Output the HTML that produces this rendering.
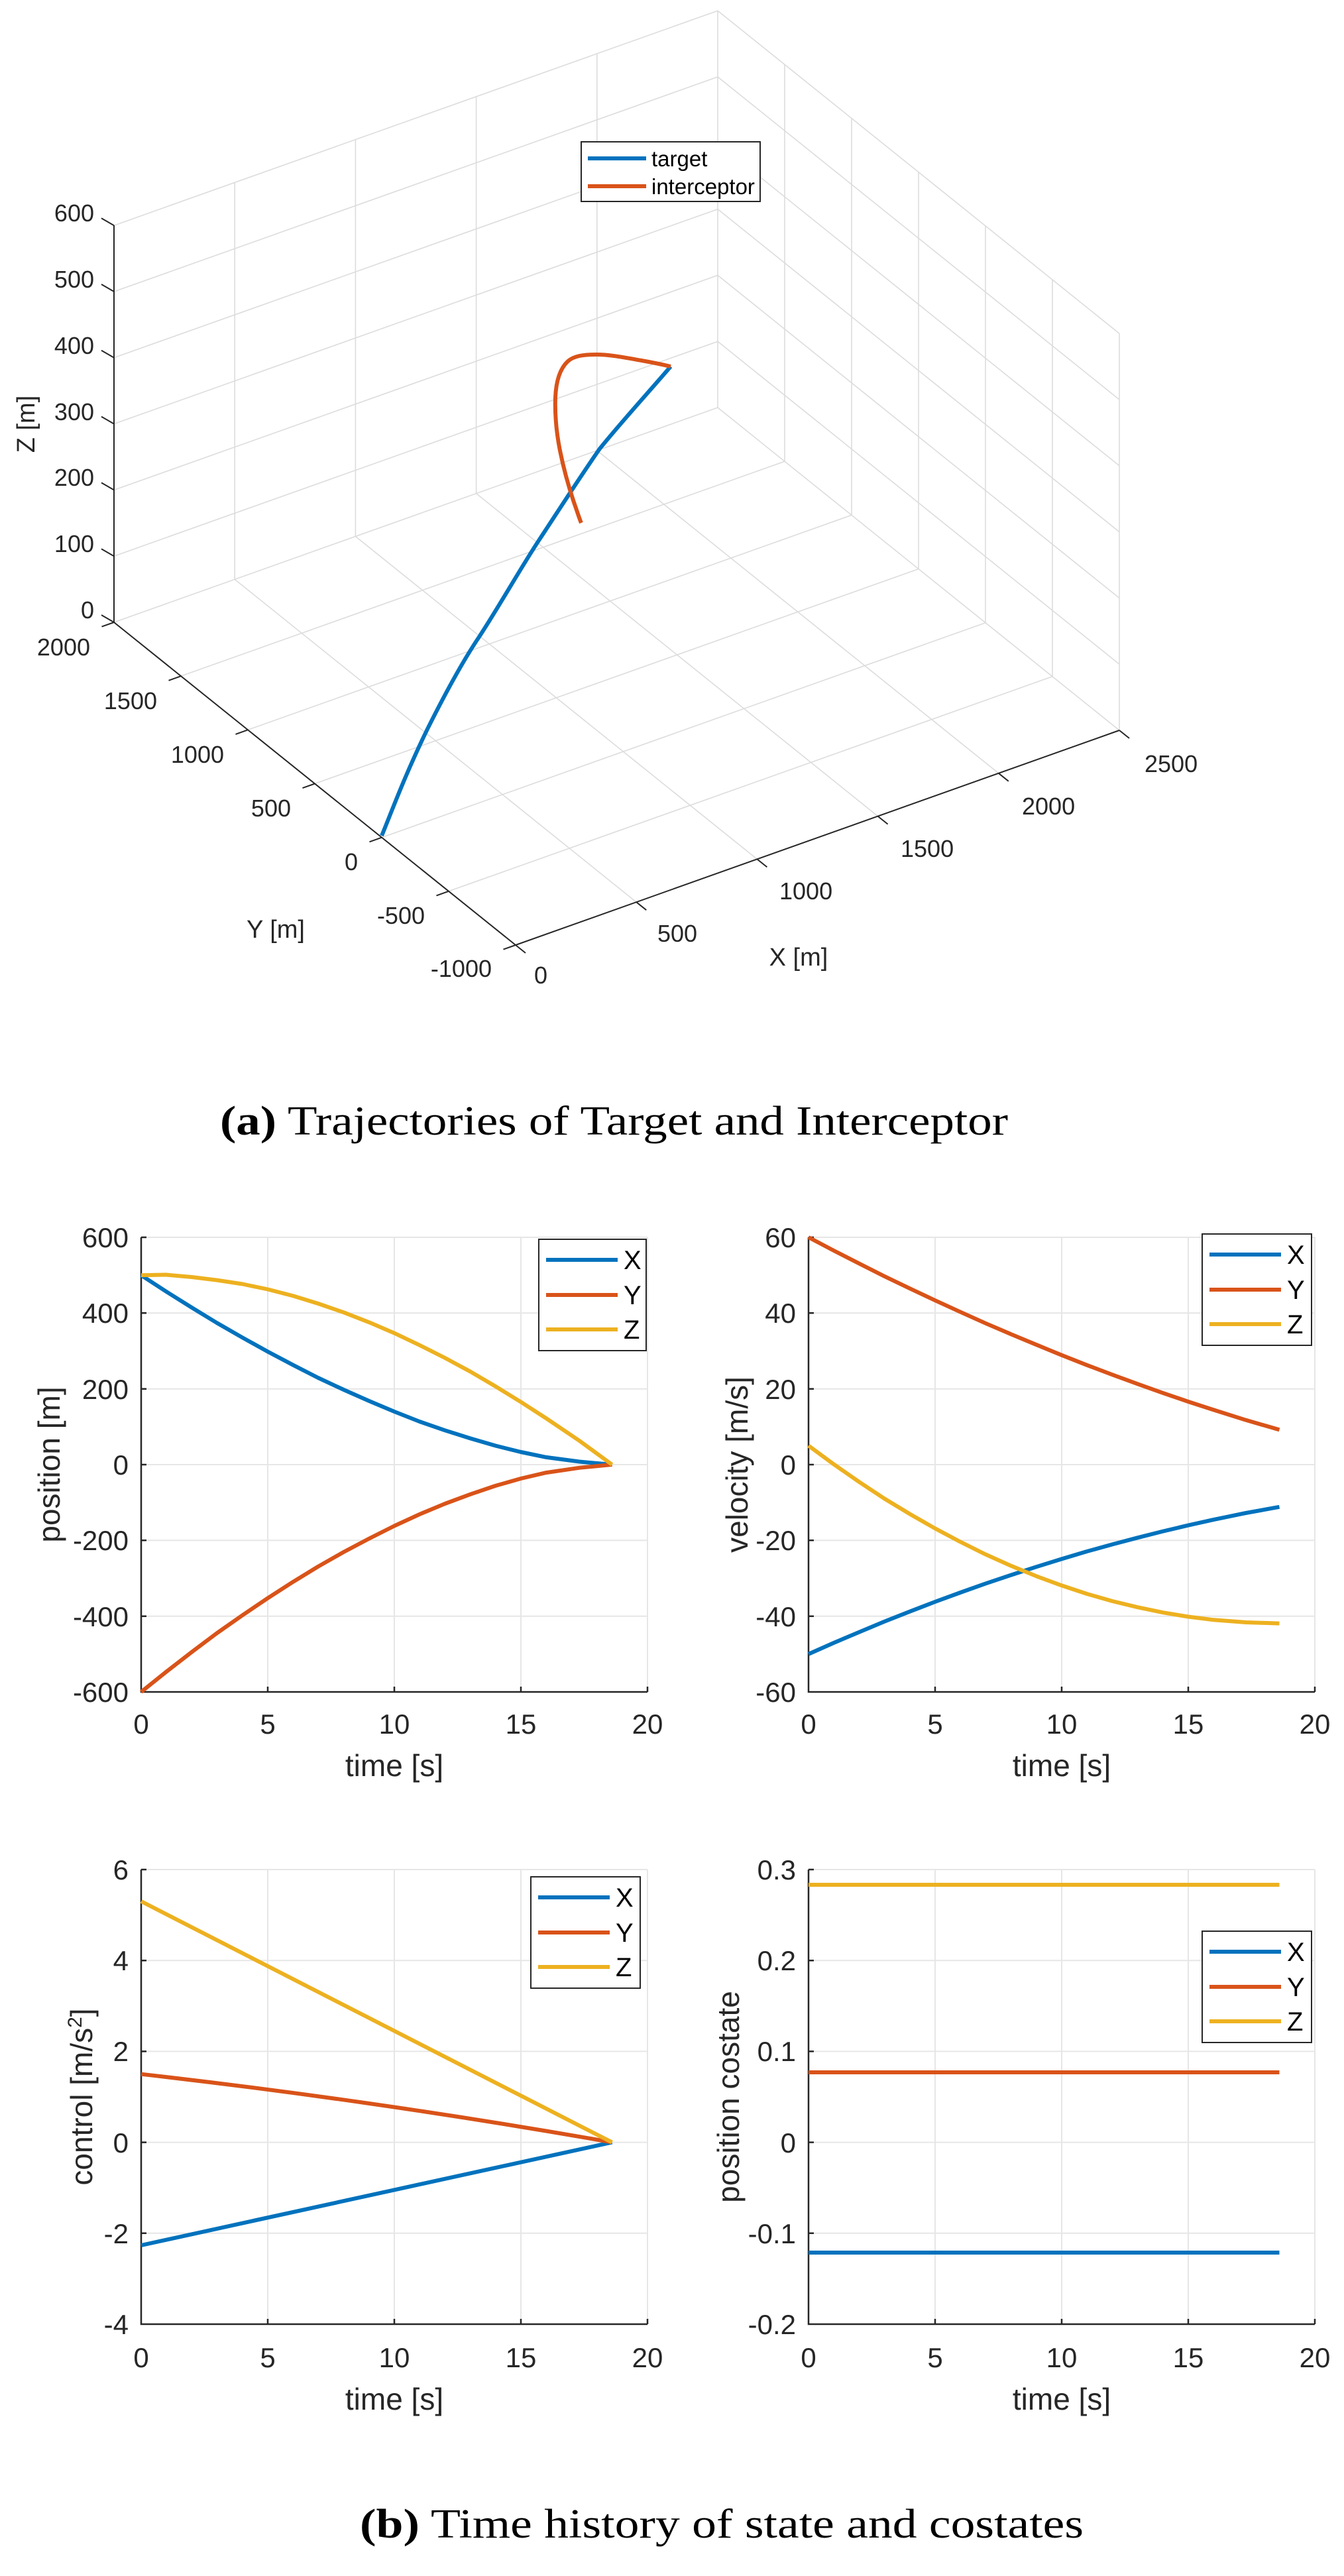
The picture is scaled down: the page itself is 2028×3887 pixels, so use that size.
<!DOCTYPE html>
<html><head><meta charset="utf-8"><style>
html,body{margin:0;padding:0;background:#fff;}
svg{display:block;}
text{font-family:"Liberation Sans",sans-serif;fill:#262626;}
.t3{font-size:36px;}
.tk{font-size:42px;}
.al{font-size:46px;}
.lg{font-size:40px;fill:#000;}
.cap{font-family:"Liberation Serif",serif;font-size:62px;fill:#000;}
</style></head><body>
<svg width="2028" height="3887" viewBox="0 0 2028 3887" xmlns="http://www.w3.org/2000/svg">
<rect width="2028" height="3887" fill="#fff"/>

<g stroke="#dcdcdc" stroke-width="1.6" fill="none">
<line x1="778" y1="1426" x2="172" y2="939"/>
<line x1="960.2" y1="1361.2" x2="354.2" y2="874.2"/>
<line x1="1142.4" y1="1296.4" x2="536.4" y2="809.4"/>
<line x1="1324.6" y1="1231.6" x2="718.6" y2="744.6"/>
<line x1="1506.8" y1="1166.8" x2="900.8" y2="679.8"/>
<line x1="1689" y1="1102" x2="1083" y2="615"/>
<line x1="677" y1="1344.8" x2="1588" y2="1020.8"/>
<line x1="576" y1="1263.7" x2="1487" y2="939.7"/>
<line x1="475" y1="1182.5" x2="1386" y2="858.5"/>
<line x1="374" y1="1101.3" x2="1285" y2="777.3"/>
<line x1="273" y1="1020.2" x2="1184" y2="696.2"/>
<line x1="172" y1="939" x2="1083" y2="615"/>
<line x1="354.2" y1="874.2" x2="354.2" y2="275.4"/>
<line x1="536.4" y1="809.4" x2="536.4" y2="210.6"/>
<line x1="718.6" y1="744.6" x2="718.6" y2="145.8"/>
<line x1="900.8" y1="679.8" x2="900.8" y2="81"/>
<line x1="1083" y1="615" x2="1083" y2="16.2"/>
<line x1="172" y1="839.2" x2="1083" y2="515.2"/>
<line x1="172" y1="739.4" x2="1083" y2="415.4"/>
<line x1="172" y1="639.6" x2="1083" y2="315.6"/>
<line x1="172" y1="539.8" x2="1083" y2="215.8"/>
<line x1="172" y1="440" x2="1083" y2="116"/>
<line x1="172" y1="340.2" x2="1083" y2="16.2"/>
<line x1="1184" y1="696.2" x2="1184" y2="97.4"/>
<line x1="1285" y1="777.3" x2="1285" y2="178.5"/>
<line x1="1386" y1="858.5" x2="1386" y2="259.7"/>
<line x1="1487" y1="939.7" x2="1487" y2="340.9"/>
<line x1="1588" y1="1020.8" x2="1588" y2="422"/>
<line x1="1689" y1="1102" x2="1689" y2="503.2"/>
<line x1="1083" y1="515.2" x2="1689" y2="1002.2"/>
<line x1="1083" y1="415.4" x2="1689" y2="902.4"/>
<line x1="1083" y1="315.6" x2="1689" y2="802.6"/>
<line x1="1083" y1="215.8" x2="1689" y2="702.8"/>
<line x1="1083" y1="116" x2="1689" y2="603"/>
<line x1="1083" y1="16.2" x2="1689" y2="503.2"/>
</g>
<g stroke="#262626" stroke-width="2" fill="none">
<line x1="172" y1="939" x2="172" y2="340"/>
<line x1="172" y1="939" x2="778" y2="1426"/>
<line x1="778" y1="1426" x2="1689" y2="1102"/>
<line x1="172" y1="939" x2="153" y2="928"/>
<line x1="172" y1="839.2" x2="153" y2="828.2"/>
<line x1="172" y1="739.4" x2="153" y2="728.4"/>
<line x1="172" y1="639.6" x2="153" y2="628.6"/>
<line x1="172" y1="539.8" x2="153" y2="528.8"/>
<line x1="172" y1="440" x2="153" y2="429"/>
<line x1="172" y1="340.2" x2="153" y2="329.2"/>
<line x1="172" y1="939" x2="153.5" y2="945.6"/>
<line x1="273" y1="1020.2" x2="254.5" y2="1026.8"/>
<line x1="374" y1="1101.3" x2="355.5" y2="1107.9"/>
<line x1="475" y1="1182.5" x2="456.5" y2="1189.1"/>
<line x1="576" y1="1263.7" x2="557.5" y2="1270.3"/>
<line x1="677" y1="1344.8" x2="658.5" y2="1351.4"/>
<line x1="778" y1="1426" x2="759.5" y2="1432.6"/>
<line x1="778" y1="1426" x2="793" y2="1438"/>
<line x1="960.2" y1="1361.2" x2="975.2" y2="1373.2"/>
<line x1="1142.4" y1="1296.4" x2="1157.4" y2="1308.4"/>
<line x1="1324.6" y1="1231.6" x2="1339.6" y2="1243.6"/>
<line x1="1506.8" y1="1166.8" x2="1521.8" y2="1178.8"/>
<line x1="1689" y1="1102" x2="1704" y2="1114"/>
</g>
<g class="t3" text-anchor="end">
<text x="142" y="933">0</text>
<text x="142" y="833">100</text>
<text x="142" y="733">200</text>
<text x="142" y="634">300</text>
<text x="142" y="534">400</text>
<text x="142" y="434">500</text>
<text x="142" y="334">600</text>
<text x="136" y="989">2000</text>
<text x="237" y="1070">1500</text>
<text x="338" y="1151">1000</text>
<text x="439" y="1232">500</text>
<text x="540" y="1313">0</text>
<text x="641" y="1394">-500</text>
<text x="742" y="1474">-1000</text>
</g>
<g class="t3">
<text x="806" y="1484">0</text>
<text x="992" y="1421">500</text>
<text x="1176" y="1357">1000</text>
<text x="1359" y="1293">1500</text>
<text x="1542" y="1229">2000</text>
<text x="1727" y="1165">2500</text>
</g>
<g class="t3" text-anchor="middle" style="font-size:38px">
<text transform="translate(52,640) rotate(-90)">Z [m]</text>
<text x="416" y="1415">Y [m]</text>
<text x="1205" y="1457">X [m]</text>
</g>
<path d="M576,1261 C592,1222 610,1172 645,1100 C676,1038 700,995 723,961 C755,912 785,858 814,814 C845,767 875,720 905,677 C940,634 975,596 1012,553" stroke="#0072BD" stroke-width="6" fill="none"/>
<path d="M1012,553 C995,549 985,547 968,544 C940,539 920,535 900,535 C880,535 866,537 857,545 C845,556 839,575 838,600 C837,630 840,655 845,680 C852,715 860,740 866,758 C871,772 874,782 877,789" stroke="#D95319" stroke-width="6" fill="none"/>
<rect x="877" y="214" width="270" height="90" fill="#fff" stroke="#262626" stroke-width="2"/>
<line x1="887" y1="239" x2="975" y2="239" stroke="#0072BD" stroke-width="6"/>
<line x1="887" y1="281" x2="975" y2="281" stroke="#D95319" stroke-width="6"/>
<text x="983" y="251" style="font-size:33px;fill:#000">target</text>
<text x="983" y="293" style="font-size:33px;fill:#000">interceptor</text>

<text class="cap" x="332" y="1712" textLength="1189" lengthAdjust="spacingAndGlyphs"><tspan font-weight="bold">(a)</tspan> Trajectories of Target and Interceptor</text>

<g stroke="#e6e6e6" stroke-width="2">
<line x1="404" y1="1867" x2="404" y2="2553"/><line x1="595" y1="1867" x2="595" y2="2553"/><line x1="786" y1="1867" x2="786" y2="2553"/><line x1="977" y1="1867" x2="977" y2="2553"/>
<line x1="213" y1="1867" x2="977" y2="1867"/><line x1="213" y1="1981.3" x2="977" y2="1981.3"/><line x1="213" y1="2095.7" x2="977" y2="2095.7"/><line x1="213" y1="2210" x2="977" y2="2210"/><line x1="213" y1="2324.3" x2="977" y2="2324.3"/><line x1="213" y1="2438.7" x2="977" y2="2438.7"/>
<line x1="1411" y1="1867" x2="1411" y2="2553"/><line x1="1602" y1="1867" x2="1602" y2="2553"/><line x1="1793" y1="1867" x2="1793" y2="2553"/><line x1="1984" y1="1867" x2="1984" y2="2553"/>
<line x1="1220" y1="1867" x2="1984" y2="1867"/><line x1="1220" y1="1981.3" x2="1984" y2="1981.3"/><line x1="1220" y1="2095.7" x2="1984" y2="2095.7"/><line x1="1220" y1="2210" x2="1984" y2="2210"/><line x1="1220" y1="2324.3" x2="1984" y2="2324.3"/><line x1="1220" y1="2438.7" x2="1984" y2="2438.7"/>
<line x1="404" y1="2821" x2="404" y2="3507"/><line x1="595" y1="2821" x2="595" y2="3507"/><line x1="786" y1="2821" x2="786" y2="3507"/><line x1="977" y1="2821" x2="977" y2="3507"/>
<line x1="213" y1="2821" x2="977" y2="2821"/><line x1="213" y1="2958.2" x2="977" y2="2958.2"/><line x1="213" y1="3095.4" x2="977" y2="3095.4"/><line x1="213" y1="3232.6" x2="977" y2="3232.6"/><line x1="213" y1="3369.8" x2="977" y2="3369.8"/>
<line x1="1411" y1="2821" x2="1411" y2="3507"/><line x1="1602" y1="2821" x2="1602" y2="3507"/><line x1="1793" y1="2821" x2="1793" y2="3507"/><line x1="1984" y1="2821" x2="1984" y2="3507"/>
<line x1="1220" y1="2821" x2="1984" y2="2821"/><line x1="1220" y1="2958.2" x2="1984" y2="2958.2"/><line x1="1220" y1="3095.4" x2="1984" y2="3095.4"/><line x1="1220" y1="3232.6" x2="1984" y2="3232.6"/><line x1="1220" y1="3369.8" x2="1984" y2="3369.8"/>
</g>
<g stroke="#262626" stroke-width="2.5" fill="none">
<path d="M213,1867 V2553 H977"/><path d="M1220,1867 V2553 H1984"/>
<path d="M213,2821 V3507 H977"/><path d="M1220,2821 V3507 H1984"/>
<path d="M213,1867h8M213,1981.3h8M213,2095.7h8M213,2210h8M213,2324.3h8M213,2438.7h8"/>
<path d="M1220,1867h8M1220,1981.3h8M1220,2095.7h8M1220,2210h8M1220,2324.3h8M1220,2438.7h8"/>
<path d="M213,2821h8M213,2958.2h8M213,3095.4h8M213,3232.6h8M213,3369.8h8"/>
<path d="M1220,2821h8M1220,2958.2h8M1220,3095.4h8M1220,3232.6h8M1220,3369.8h8"/>
<path d="M404,2553v-8M595,2553v-8M786,2553v-8M977,2553v-8"/>
<path d="M1411,2553v-8M1602,2553v-8M1793,2553v-8M1984,2553v-8"/>
<path d="M404,3507v-8M595,3507v-8M786,3507v-8M977,3507v-8"/>
<path d="M1411,3507v-8M1602,3507v-8M1793,3507v-8M1984,3507v-8"/>
</g>

<g class="tk" text-anchor="end">
<text x="194" y="1882">600</text><text x="194" y="1996">400</text><text x="194" y="2111">200</text><text x="194" y="2225">0</text><text x="194" y="2339">-200</text><text x="194" y="2454">-400</text><text x="194" y="2568">-600</text>
<text x="1201" y="1882">60</text><text x="1201" y="1996">40</text><text x="1201" y="2111">20</text><text x="1201" y="2225">0</text><text x="1201" y="2339">-20</text><text x="1201" y="2454">-40</text><text x="1201" y="2568">-60</text>
<text x="194" y="2836">6</text><text x="194" y="2973">4</text><text x="194" y="3110">2</text><text x="194" y="3248">0</text><text x="194" y="3385">-2</text><text x="194" y="3522">-4</text>
<text x="1201" y="2836">0.3</text><text x="1201" y="2973">0.2</text><text x="1201" y="3110">0.1</text><text x="1201" y="3248">0</text><text x="1201" y="3385">-0.1</text><text x="1201" y="3522">-0.2</text>
</g>
<g class="tk" text-anchor="middle">
<text x="213" y="2616">0</text><text x="404" y="2616">5</text><text x="595" y="2616">10</text><text x="786" y="2616">15</text><text x="977" y="2616">20</text>
<text x="1220" y="2616">0</text><text x="1411" y="2616">5</text><text x="1602" y="2616">10</text><text x="1793" y="2616">15</text><text x="1984" y="2616">20</text>
<text x="213" y="3572">0</text><text x="404" y="3572">5</text><text x="595" y="3572">10</text><text x="786" y="3572">15</text><text x="977" y="3572">20</text>
<text x="1220" y="3572">0</text><text x="1411" y="3572">5</text><text x="1602" y="3572">10</text><text x="1793" y="3572">15</text><text x="1984" y="3572">20</text>
</g>
<g class="al" text-anchor="middle">
<text x="595" y="2680">time [s]</text><text x="1602" y="2680">time [s]</text>
<text x="595" y="3636">time [s]</text><text x="1602" y="3636">time [s]</text>
<text transform="translate(90,2210) rotate(-90)">position [m]</text>
<text transform="translate(1128,2210) rotate(-90)">velocity [m/s]</text>
<text transform="translate(139,3164) rotate(-90)">control [m/s<tspan font-size="30" dy="-16">2</tspan><tspan dy="16">]</tspan></text>
<text transform="translate(1115,3164) rotate(-90)">position costate</text>
</g>

<g fill="none" stroke-width="6" stroke-linejoin="round">
<polyline stroke="#0072BD" points="213,1924.2 251,1949 289.4,1973.1 327,1996 365.8,2018.3 404,2039.5 442.2,2059.7 480,2079 518.6,2097 557,2114 595,2130 633,2145 671.4,2158.3 710,2170.5 747.8,2181.5 786,2191 824.2,2198.9 874,2205.5 923.5,2210"/>
<polyline stroke="#D95319" points="213,2553 251,2522.5 289.4,2492.7 327,2464.5 365.8,2437.3 404,2411.5 442.2,2386.9 480,2363.8 518.6,2341.9 557,2321.6 595,2302.5 633,2285 671.4,2269 710,2254.7 747.8,2241.9 786,2231 824.2,2222.1 874,2214.8 923.5,2210"/>
<polyline stroke="#EDB120" points="213,1924.2 250,1923.5 289.4,1927 327,1931.6 365.8,1937.5 404,1945.5 442.2,1955.4 480,1967 518.6,1980.3 557,1995.3 595,2011.6 633,2029.7 671.4,2049 710,2069.8 747.8,2092 786,2115.5 824.2,2140.2 874,2173.8 923.5,2210"/>
<polyline stroke="#0072BD" points="1220,2495.9 1258,2479 1296.4,2462.7 1334,2447 1372.8,2431.7 1411,2417 1449.2,2403 1487,2389.6 1525.6,2376.6 1564,2364.2 1602,2352.4 1640,2341 1678.4,2330.4 1717,2320.2 1754.8,2310.6 1793,2301.6 1831.2,2293.1 1880,2283 1930.5,2273.8"/>
<polyline stroke="#D95319" points="1220,1867 1258,1887 1296.4,1906.6 1334,1925.6 1372.8,1944.2 1411,1962.2 1449.2,1979.7 1487,1996.7 1525.6,2013.2 1564,2029.2 1602,2044.8 1640,2059.8 1678.4,2074.3 1717,2088.4 1754.8,2101.9 1793,2115 1831.2,2127.4 1880,2142.8 1930.5,2157.4"/>
<polyline stroke="#EDB120" points="1220,2181.4 1258,2209.4 1296.4,2236.1 1334,2261 1372.8,2284.5 1411,2306.3 1449.2,2326.6 1487,2345.4 1525.6,2362.7 1564,2378.4 1602,2392.4 1640,2405 1678.4,2416 1717,2425.3 1754.8,2433.2 1793,2439.5 1831.2,2444.3 1880,2448 1930.5,2449.6"/>
<polyline stroke="#0072BD" points="213,3388 923.5,3232.6"/>
<path stroke="#D95319" d="M213,3129.7 Q568,3170 923.5,3232.6"/>
<polyline stroke="#EDB120" points="213,2869 923.5,3232.6"/>
<line stroke="#EDB120" x1="1220" y1="2844" x2="1930.5" y2="2844"/>
<line stroke="#D95319" x1="1220" y1="3127" x2="1930.5" y2="3127"/>
<line stroke="#0072BD" x1="1220" y1="3399" x2="1930.5" y2="3399"/>
</g>

<g>
<rect x="813" y="1870" width="162" height="168" fill="#fff" stroke="#262626" stroke-width="2"/>
<line x1="824" y1="1901" x2="932" y2="1901" stroke="#0072BD" stroke-width="6"/>
<line x1="824" y1="1954" x2="932" y2="1954" stroke="#D95319" stroke-width="6"/>
<line x1="824" y1="2006" x2="932" y2="2006" stroke="#EDB120" stroke-width="6"/>
<text class="lg" x="941" y="1915">X</text><text class="lg" x="941" y="1968">Y</text><text class="lg" x="941" y="2020">Z</text>

<rect x="1814" y="1862" width="165" height="168" fill="#fff" stroke="#262626" stroke-width="2"/>
<line x1="1825" y1="1893" x2="1933" y2="1893" stroke="#0072BD" stroke-width="6"/>
<line x1="1825" y1="1946" x2="1933" y2="1946" stroke="#D95319" stroke-width="6"/>
<line x1="1825" y1="1998" x2="1933" y2="1998" stroke="#EDB120" stroke-width="6"/>
<text class="lg" x="1942" y="1907">X</text><text class="lg" x="1942" y="1960">Y</text><text class="lg" x="1942" y="2012">Z</text>

<rect x="801" y="2832" width="165" height="168" fill="#fff" stroke="#262626" stroke-width="2"/>
<line x1="812" y1="2863" x2="920" y2="2863" stroke="#0072BD" stroke-width="6"/>
<line x1="812" y1="2916" x2="920" y2="2916" stroke="#D95319" stroke-width="6"/>
<line x1="812" y1="2968" x2="920" y2="2968" stroke="#EDB120" stroke-width="6"/>
<text class="lg" x="929" y="2877">X</text><text class="lg" x="929" y="2930">Y</text><text class="lg" x="929" y="2982">Z</text>

<rect x="1814" y="2914" width="165" height="168" fill="#fff" stroke="#262626" stroke-width="2"/>
<line x1="1825" y1="2945" x2="1933" y2="2945" stroke="#0072BD" stroke-width="6"/>
<line x1="1825" y1="2998" x2="1933" y2="2998" stroke="#D95319" stroke-width="6"/>
<line x1="1825" y1="3050" x2="1933" y2="3050" stroke="#EDB120" stroke-width="6"/>
<text class="lg" x="1942" y="2959">X</text><text class="lg" x="1942" y="3012">Y</text><text class="lg" x="1942" y="3064">Z</text>
</g>

<text class="cap" x="543" y="3829" textLength="1092" lengthAdjust="spacingAndGlyphs"><tspan font-weight="bold">(b)</tspan> Time history of state and costates</text>
</svg>
</body></html>
